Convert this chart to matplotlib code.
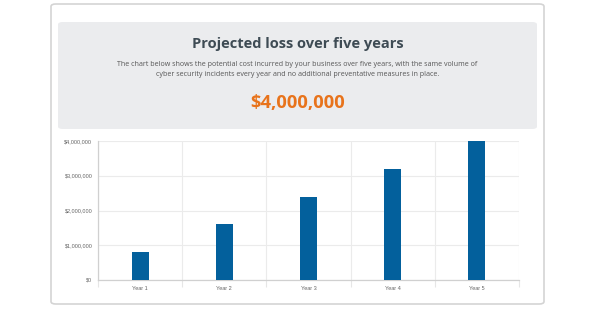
import matplotlib.pyplot as plt
from matplotlib.patches import FancyBboxPatch
from matplotlib.ticker import FuncFormatter

# Daten
jahre = ["Year 1", "Year 2", "Year 3", "Year 4", "Year 5"]
verlust = [800000, 1600000, 2400000, 3200000, 4000000]
y_ticks = [0, 1000000, 2000000, 3000000, 4000000]

titel = "Projected loss over five years"
untertitel = ("The chart below shows the potential cost incurred by your business over five years, with the same volume of\n"
              "cyber security incidents every year and no additional preventative measures in place.")
betrag = "$4,000,000"

W, H = 601, 310
fig = plt.figure(figsize=(W / 100, H / 100), dpi=100)


def box(x0, y0, x1, y1, **kw):
    # Pixelkoordinaten (oben links) -> Figure-Koordinaten
    p = FancyBboxPatch((x0 / W, 1 - y1 / H), (x1 - x0) / W, (y1 - y0) / H,
                       boxstyle="round,pad=0,rounding_size=0.008",
                       transform=fig.transFigure, zorder=-1, **kw)
    fig.patches.append(p)


# Karte und grauer Kopfbereich
box(51, 4, 544, 304, facecolor="white", edgecolor="#d4d4d4", linewidth=1.2)
box(58, 22, 537, 129, facecolor="#ebecee", edgecolor="none")

fig.text(297.5 / W, 1 - 44 / H, titel, ha="center", va="center",
         fontsize=10.5, fontweight="bold", color="#3e4b54", family="Open Sans")
fig.text(297.5 / W, 1 - 70 / H, untertitel, ha="center", va="center",
         fontsize=5.15, color="#555555", family="Open Sans", linespacing=1.6)
fig.text(297.5 / W, 1 - 103 / H, betrag, ha="center", va="center",
         fontsize=13.2, fontweight="bold", color="#e8731b", family="Open Sans")

# Diagramm
ax = fig.add_axes([98 / W, 1 - 280 / H, (519 - 98) / W, (280 - 141) / H])
ax.set_zorder(5)
x = range(len(jahre))
ax.bar(x, verlust, width=0.2, color="#03609c", zorder=3)

ax.set_xlim(-0.5, len(jahre) - 0.5)
ax.set_ylim(0, 4000000)
ax.set_yticks(y_ticks)
ax.yaxis.set_major_formatter(FuncFormatter(lambda v, p: "${:,.0f}".format(v)))
ax.set_xticks(list(x))
ax.set_xticklabels(jahre)
ax.set_xticks([i - 0.5 for i in range(len(jahre) + 1)], minor=True)

ax.tick_params(axis="y", length=0, pad=4, labelsize=4, labelcolor="#666666")
ax.tick_params(axis="x", which="major", length=0, pad=4, labelsize=4, labelcolor="#666666")
ax.tick_params(axis="x", which="minor", length=5, color="#e6e6e6", width=0.8)

ax.grid(axis="y", color="#ebebeb", linewidth=0.8, zorder=0)
ax.grid(axis="x", which="minor", color="#ebebeb", linewidth=0.8, zorder=0)

for s in ["top", "right"]:
    ax.spines[s].set_visible(False)
for s in ["left", "bottom"]:
    ax.spines[s].set_color("#d0d0d0")
    ax.spines[s].set_linewidth(0.9)

for lbl in ax.get_xticklabels() + ax.get_yticklabels():
    lbl.set_family("Liberation Sans")

fig.savefig("out.png", dpi=100)
